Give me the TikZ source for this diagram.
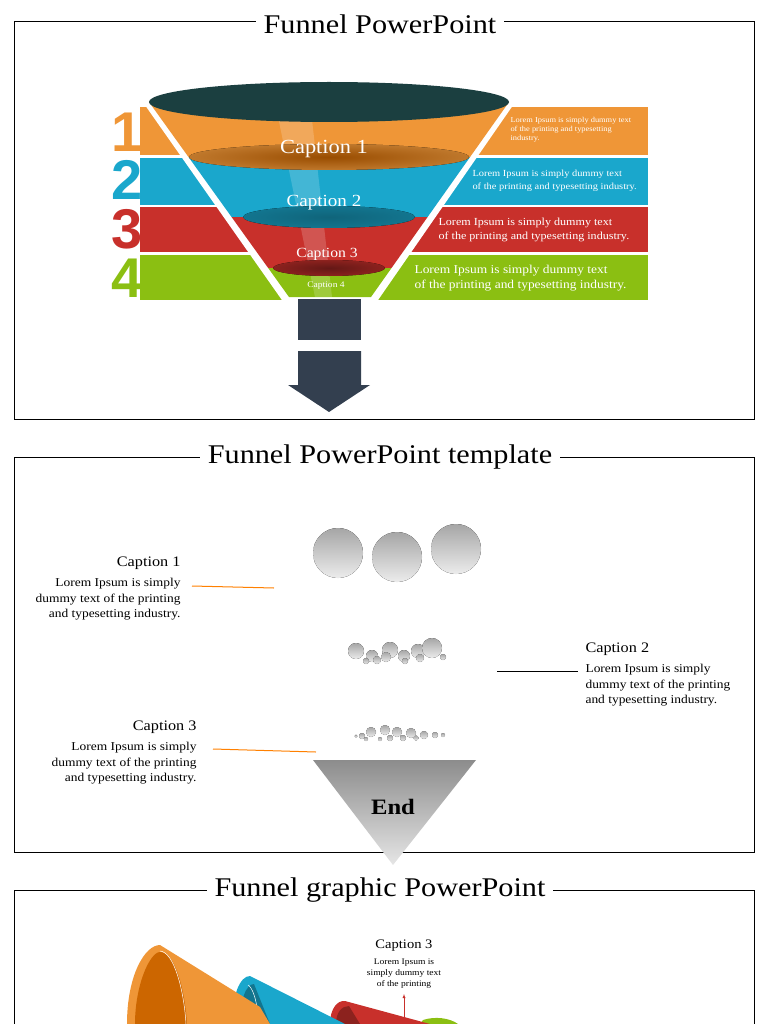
\documentclass[tikz,border=0pt]{standalone}
\usepackage{fontspec}
\setmainfont{Liberation Serif}[FakeStretch=1.12]
\newfontfamily\numfont{Liberation Sans}
\usetikzlibrary{shapes.geometric}
\definecolor{forange}{HTML}{EF9637}
\definecolor{fblue}{HTML}{1AA7CC}
\definecolor{fred}{HTML}{C8302B}
\definecolor{fgreen}{HTML}{8BBF12}
\definecolor{fteal}{HTML}{1B3F40}
\definecolor{fdark}{HTML}{333F4F}
\tikzset{
  frame/.style={draw=black,line width=1pt},
  ttl/.style={fill=white,inner xsep=8pt,font=\fontsize{27}{29}\selectfont},
  num/.style={font=\numfont\bfseries\fontsize{56}{56}\selectfont,inner sep=0pt,text height=40pt,text depth=0pt},
  rtxt/.style={text=white,align=left,anchor=west},
  captxt/.style={font=\fontsize{14.5}{16}\selectfont},
  body/.style={font=\fontsize{12}{15.5}\selectfont},
  bub/.style={top color=gray!130!black,bottom color=gray!15,draw=none},
}
\begin{document}
\begin{tikzpicture}[x=1pt,y=-1pt]
\useasboundingbox (0,0) rectangle (768,1024);
% ---------- Panel 1 ----------
\draw[frame] (14,22) rectangle (754,419);
\node[ttl] (t1) at (380,24) {Funnel PowerPoint};
% bands
\fill[forange] (140,107) rectangle (648,155);
\fill[fblue] (140,158) rectangle (648,205);
\fill[fred] (140,207) rectangle (648,252);
\fill[fgreen] (140,255) rectangle (648,300);
\foreach \n/\c/\y in {1/forange/152,2/fblue/200,3/fred/248,4/fgreen/297}{
  \node[num,text=\c,anchor=base] (n\n) at (127,\y) {\n};
}
% funnel cone with white border
\fill[white] (140,98) -- (518,98) -- (376,303) -- (284,303) -- cycle;
\begin{scope}
\clip (149,102) -- (509,102) -- (371,297) -- (289,297) -- cycle;
\fill[forange] (100,90) rectangle (560,157);
\fill[fblue] (100,157) rectangle (560,217);
\fill[fred] (100,217) rectangle (560,268);
\fill[fgreen] (100,268) rectangle (560,300);
\fill[white,opacity=0.18] (275,102) -- (310,102) -- (332,297) -- (315,297) -- cycle;
\end{scope}
\fill[inner color=orange!60!black,outer color=forange!80!black] (329,157) ellipse (140 and 13);
\fill[inner color=fblue!60!black,outer color=fblue!70!black] (329,217) ellipse (86 and 11);
\fill[inner color=fred!50!black,outer color=fred!70!black] (329,268) ellipse (56 and 8);
\fill[fteal] (329,102) ellipse (180 and 20);
\node[text=white,font=\fontsize{20}{22}\selectfont] (c1) at (324,149) {Caption 1};
\node[text=white,font=\fontsize{17}{19}\selectfont] (c2) at (324,203) {Caption 2};
\node[text=white,font=\fontsize{14}{15}\selectfont] (c3) at (327,254) {Caption 3};
\node[text=white,font=\fontsize{8.5}{9}\selectfont] (c4) at (326,286) {Caption 4};
\node[rtxt,font=\fontsize{7.5}{9}\selectfont] (r1) at (507,130) {Lorem Ipsum is simply dummy text\\of the printing and typesetting\\industry.};
\node[rtxt,font=\fontsize{9.3}{12.5}\selectfont] (r2) at (469,181) {Lorem Ipsum is simply dummy text\\of the printing and typesetting industry.};
\node[rtxt,font=\fontsize{10.8}{14}\selectfont] (r3) at (435,230) {Lorem Ipsum is simply dummy text\\of the printing and typesetting industry.};
\node[rtxt,font=\fontsize{12}{15.5}\selectfont] (r4) at (411,278) {Lorem Ipsum is simply dummy text\\of the printing and typesetting industry.};
% spout and arrow
\fill[fdark] (298,299) rectangle (361,340);
\fill[fdark] (298,351) -- (361,351) -- (361,385) -- (370,385) -- (329,412) -- (288,385) -- (298,385) -- cycle;
% ---------- Panel 2 ----------
\draw[frame] (14,457) rectangle (754,852);
\node[ttl] (t2) at (380,457) {Funnel PowerPoint template};
\fill[bub] (338,553) circle (25);
\fill[bub] (397,557) circle (25);
\fill[bub] (456,549) circle (25);
\foreach \x/\y/\r in {356/651/8,372/656/6,390/650/8,404/656/6,418/651/7,432/648/10,386/657/5,366/661/3,405/661/3,443/657/3,377/660/4,420/658/4}
  \fill[bub] (\x,\y) circle (\r);
\foreach \x/\y/\r in {371/732/5,385/730/5,397/732/5,411/733/5,424/735/4,435/735/3,443/735/2,362/736/3,356/736/1.5,390/738/3,403/738/3,416/738/2.5,380/739/2,366/739/2}
  \fill[bub] (\x,\y) circle (\r);
\node[captxt,anchor=east] (k1) at (184,563) {Caption 1};
\node[body,align=right,anchor=north east] (b1) at (184,575) {Lorem Ipsum is simply\\dummy text of the printing\\and typesetting industry.};
\draw[orange,line width=1pt] (192,586) -- (274,588);
\node[captxt,anchor=west] (k2) at (582,649) {Caption 2};
\node[body,align=left,anchor=north west] (b2) at (582,661) {Lorem Ipsum is simply\\dummy text of the printing\\and typesetting industry.};
\draw[black,line width=1pt] (497,671) -- (578,671);
\node[captxt,anchor=east] (k3) at (200,727) {Caption 3};
\node[body,align=right,anchor=north east] (b3) at (200,739) {Lorem Ipsum is simply\\dummy text of the printing\\and typesetting industry.};
\draw[orange,line width=1pt] (213,749) -- (316,752);
\shade[top color=gray!110!black,bottom color=gray!20] (313,760) -- (476,760) -- (393,865) -- cycle;
\node[font=\bfseries\fontsize{22}{24}\selectfont] (end) at (393,807) {End};
% ---------- Panel 3 ----------
\draw[frame] (14,1030) -- (14,890) -- (754,890) -- (754,1030);
\node[ttl] (t3) at (380,890) {Funnel graphic PowerPoint};
\fill[fgreen] (423,1020) .. controls (435,1016) and (450,1018) .. (458,1024) -- (420,1024) -- cycle;
\fill[fred] (330,1024) .. controls (330,1008) and (338,1000) .. (345,1001) -- (430,1024) -- cycle;
\fill[fred!70!black] (336,1024) .. controls (336,1012) and (342,1006) .. (349,1006) -- (360,1024) -- cycle;
\fill[fblue] (232,1024) .. controls (232,995) and (240,976) .. (250,976) -- (345,1024) -- cycle;
\fill[fblue!70!black] (240,1024) .. controls (240,1000) and (246,984) .. (254,984) -- (270,1024) -- cycle;
\draw[white,line width=0.5pt] (258,1024) .. controls (258,1000) and (252,987) .. (248,985);
\fill[forange] (127,1024) .. controls (127,975) and (145,945) .. (160,945) -- (260,1007) -- (270,1024) -- cycle;
\fill[orange!80!black] (135,1024) .. controls (135,985) and (150,952) .. (160,952) .. controls (175,952) and (185,990) .. (187,1024) -- cycle;
\draw[white,line width=0.5pt] (186,1024) .. controls (184,990) and (174,952) .. (160,951);
\node[font=\fontsize{13}{15}\selectfont] (k33) at (404,946) {Caption 3};
\node[font=\fontsize{8.5}{11}\selectfont,align=center,anchor=north] (b33) at (404,955) {Lorem Ipsum is\\simply dummy text\\of the printing};
\coordinate (a0) at (404,1024);
\draw[fred,-latex] (a0) -- (404,994);
\end{tikzpicture}
\end{document}
